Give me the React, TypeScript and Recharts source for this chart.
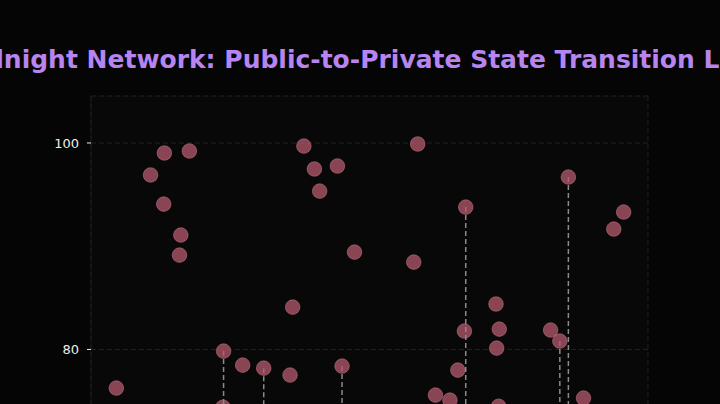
import { ScatterChart, Scatter, XAxis, YAxis, CartesianGrid } from 'recharts'

const TITLE = 'Midnight Network: Public-to-Private State Transition Latency'

// hours since window start (x) and transition score (y)
const transitionHour = [
  0.0, 0.52, 0.72, 0.73, 0.96, 0.98, 1.11, 1.62, 1.63, 1.92, 2.24, 2.64, 2.68, 2.85, 3.01, 3.09, 3.36, 3.43,
  3.62, 4.52, 4.58, 4.85, 5.07, 5.19, 5.29, 5.31, 5.77, 5.78, 5.81, 5.82, 6.6, 6.74, 6.87, 7.1, 7.56, 7.71,
]
const transitionScore = [
  76.26, 96.9, 94.08, 99.03, 89.14, 91.08, 99.22, 74.4, 79.84, 78.48, 78.19, 77.52, 84.1, 99.7, 97.48, 95.34,
  97.77, 78.39, 89.43, 88.46, 99.9, 75.58, 75.09, 78.0, 81.78, 93.79, 84.4, 80.13, 74.5, 81.97, 81.88, 80.81,
  96.7, 75.29, 91.66, 93.31,
]
// points that get a drop line
const flaggedIdx = [8, 10, 17, 25, 31, 32]

const yTicks = [80, 100]
const xTicks = [0, 1, 2, 3, 4, 5, 6, 7, 8]

const points = transitionHour.map((h, i) => ({
  hour: h,
  score: transitionScore[i],
  flagged: flaggedIdx.includes(i),
}))

function Dot(props: any) {
  const { cx, cy, payload } = props
  return (
    <g>
      {payload.flagged && (
        <line x1={cx} y1={cy} x2={cx} y2={cy + 1000} stroke="#8a8a8a" strokeWidth={1.5} strokeDasharray="5 3" />
      )}
      <circle cx={cx} cy={cy} r={7.3} fill="#b45a6e" fillOpacity={0.75} stroke="#d07d8e" strokeOpacity={0.5} strokeWidth={1} />
    </g>
  )
}

export default function App() {
  return (
    <div style={{ position: 'absolute', left: 0, top: 0, width: 720, height: 404, overflow: 'hidden', background: '#050505' }}>
      <ScatterChart width={720} height={740} margin={{ top: 96, right: 72, left: 0, bottom: 24 }}>
        <CartesianGrid fill="#080808" stroke="#222222" strokeDasharray="5 3" />
        <XAxis
          type="number"
          dataKey="hour"
          domain={[-0.385, 8.08]}
          ticks={xTicks}
          allowDataOverflow
          height={30}
          stroke="#181818"
          tick={false}
          tickLine={{ stroke: '#e0e0e0' }}
        />
        <XAxis xAxisId="top" orientation="top" type="number" dataKey="hour" domain={[-0.385, 8.08]} height={0} tick={false} tickLine={false} stroke="#181818" />
        <YAxis
          type="number"
          dataKey="score"
          domain={[47.4, 104.55]}
          ticks={yTicks}
          allowDataOverflow
          width={91}
          tickSize={4}
          tickMargin={8}
          stroke="#181818"
          tick={{ fill: '#eeeeee', fontSize: 13, fontFamily: 'DejaVu Sans' }}
          tickLine={{ stroke: '#eeeeee' }}
        />
        <YAxis yAxisId="right" orientation="right" type="number" dataKey="score" domain={[47.4, 104.55]} width={0} tick={false} tickLine={false} stroke="#181818" />
        <Scatter data={points} shape={Dot} isAnimationActive={false} />
      </ScatterChart>
      <svg width={720} height={404} style={{ position: 'absolute', left: 0, top: 0, pointerEvents: 'none' }}>
        <text x={-47.5} y={67.5} fill="#b784f0" fontSize={25} fontWeight="bold" fontFamily="DejaVu Sans">
          {TITLE}
        </text>
      </svg>
    </div>
  )
}
